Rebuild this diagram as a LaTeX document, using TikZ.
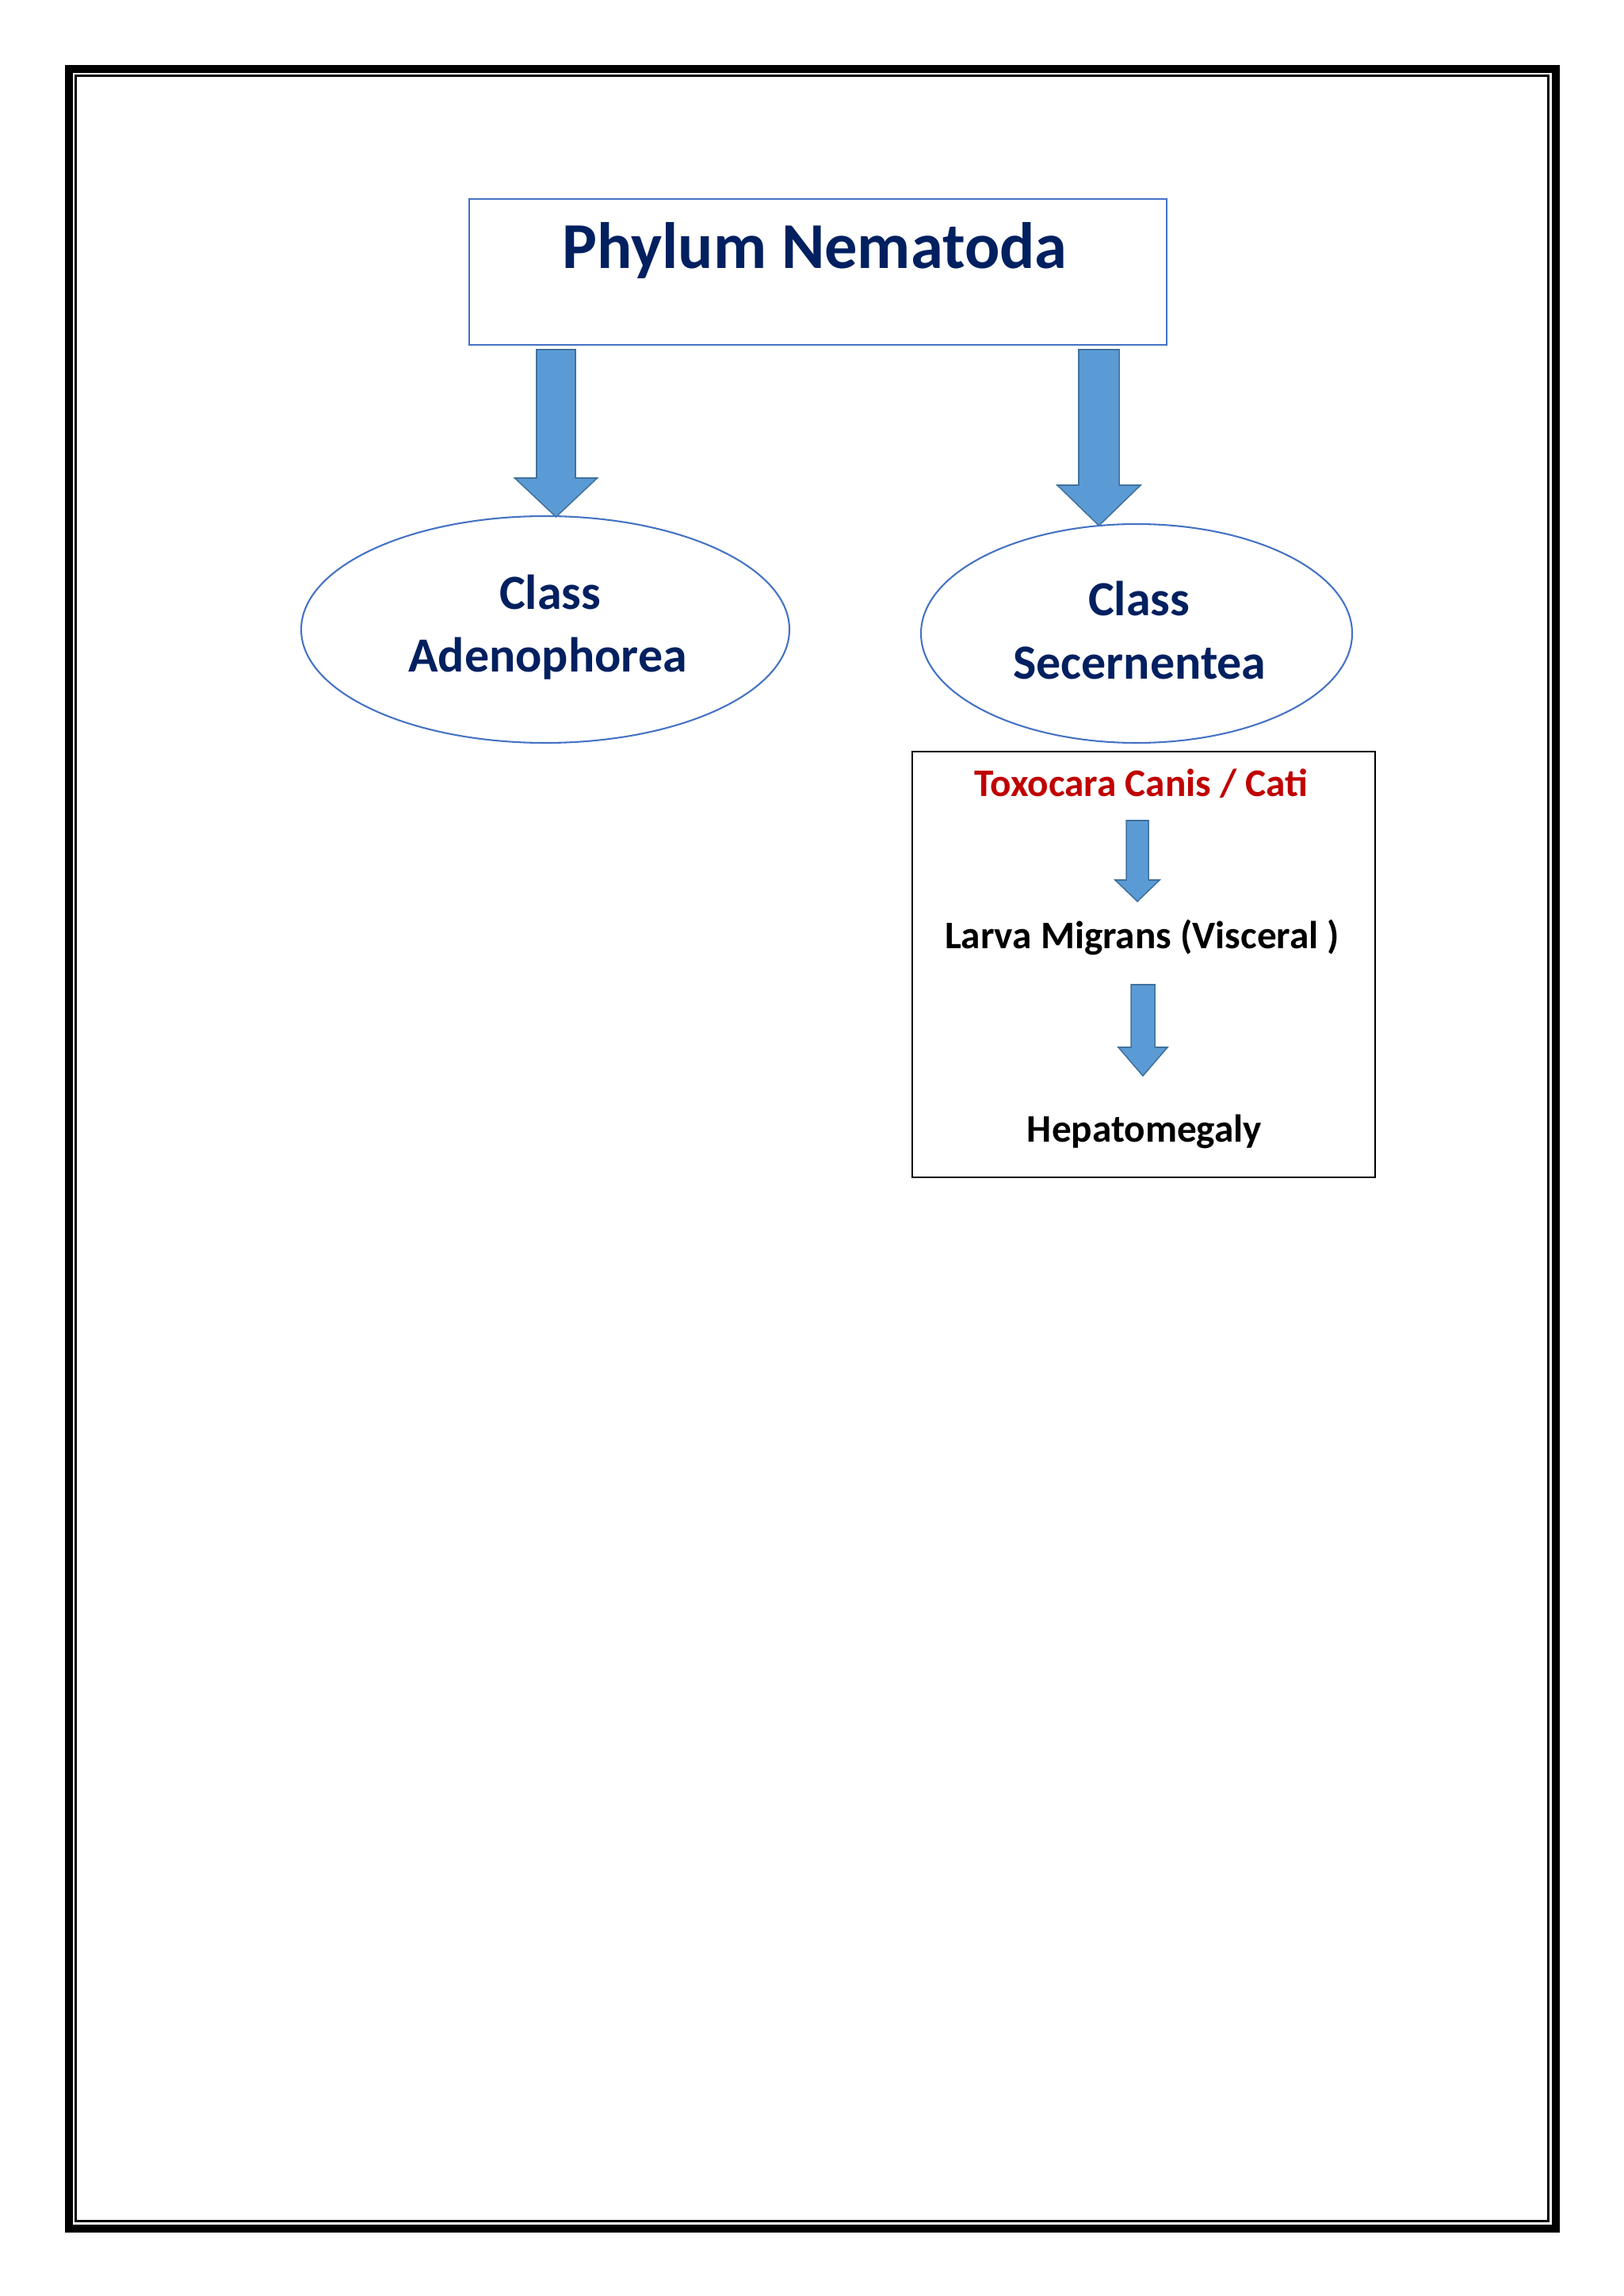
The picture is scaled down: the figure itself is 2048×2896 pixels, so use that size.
\documentclass[tikz,border=0pt]{standalone}
\usepackage{fontspec}
\setmainfont{Carlito}
\usetikzlibrary{shapes.geometric,fit}
\definecolor{navy}{HTML}{002060}
\definecolor{boxblue}{HTML}{4472C4}
\definecolor{arrowfill}{HTML}{5B9BD5}
\definecolor{arrowline}{HTML}{41719C}
\definecolor{darkred}{HTML}{C00000}
% block arrow: cx, ytop, shaft half width, y of head start, head half width, y of tip
\newcommand{\myblockarrow}[6]{%
  \draw[blockarrowstyle] (#1-#3,#2) -- (#1+#3,#2) -- (#1+#3,#4) -- (#1+#5,#4)
    -- (#1,#6) -- (#1-#5,#4) -- (#1-#3,#4) -- cycle;}
\tikzset{
  blockarrowstyle/.style={draw=arrowline, fill=arrowfill, line width=0.45pt, line join=miter},
  bigtext/.style={font=\bfseries\fontsize{24}{29}\selectfont, text=navy, anchor=base, inner sep=0pt},
  classtext/.style={font=\bfseries\fontsize{18}{21}\selectfont, text=navy, anchor=base, inner sep=0pt},
  smalltext/.style={font=\bfseries\fontsize{14.3}{17}\selectfont, anchor=base, inner sep=0pt},
  classoval/.style={ellipse, draw=boxblue, line width=0.6pt, inner sep=0pt},
}
\begin{document}
\begin{tikzpicture}[x=0.2906pt, y=-0.2906pt]
\useasboundingbox (0,0) rectangle (2048,2896);
\fill[white] (0,0) rectangle (2048,2896);
% page border
\draw[line width=2.9pt] (87,87) rectangle (1963,2811);
\draw[line width=1pt] (95.5,95.5) rectangle (1953.5,2801.5);
% top box
\node (phylum) [draw=boxblue, line width=0.6pt, fit={(592,251) (1472,435)}, inner sep=0pt] {};
\node (phylumtext) [bigtext] at (1028,339) {Phylum Nematoda};
% arrows from the top box
\myblockarrow{701.5}{441}{24.5}{603}{52}{652}
\myblockarrow{1386.5}{441}{25.5}{612}{52.5}{663}
% classes
\node (adeno) [classoval, minimum width=616*0.2906pt, minimum height=286*0.2906pt] at (688,794) {};
\node (adenoA) [classtext] at (694,768) {Class};
\node (adenoB) [classtext] at (691,848) {Adenophorea};
\node (secer) [classoval, minimum width=544*0.2906pt, minimum height=276*0.2906pt] at (1434,799) {};
\node (secerA) [classtext] at (1437,776) {Class};
\node (secerB) [classtext] at (1438,856) {Secernentea};
% sub box
\node (subbox) [draw=black, line width=0.75pt, fit={(1151,948) (1735,1485)}, inner sep=0pt] {};
\node (toxo) [smalltext, text=darkred] at (1440,1004) {Toxocara Canis / Cati};
\myblockarrow{1435}{1035}{14}{1110}{28}{1137}
\node (larva) [smalltext, text=black] at (1441,1196) {Larva Migrans (Visceral )};
\myblockarrow{1442}{1242}{15}{1321}{31}{1357}
\node (hepato) [smalltext, text=black] at (1444,1440) {Hepatomegaly};
\end{tikzpicture}
\end{document}
